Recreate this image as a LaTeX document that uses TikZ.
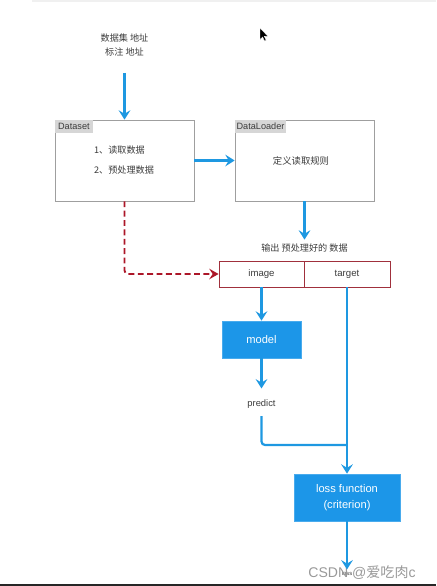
\documentclass[tikz,border=0pt]{standalone}
\usepackage{fontspec}
\setmainfont{Liberation Sans}
\newfontfamily\cjk{Noto Sans CJK SC}
\usetikzlibrary{arrows.meta}
\definecolor{flowblue}{RGB}{30,152,225}
\definecolor{boxblue}{RGB}{28,150,232}
\definecolor{dashred}{RGB}{172,22,40}
\definecolor{cellred}{RGB}{160,48,60}
\definecolor{txtgray}{RGB}{60,60,60}
\tikzset{
  flow/.style={draw=flowblue,line width=1.9pt,-{Stealth[length=8pt,width=10pt,inset=3pt]}},
  flowline/.style={draw=flowblue,line width=1.9pt,rounded corners=3pt},
  redflow/.style={draw=dashred,line width=1.6pt,dash pattern=on 5pt off 3pt,rounded corners=3pt,-{Stealth[length=8pt,width=9pt,inset=3pt]}},
  stagebox/.style={draw=gray!75,line width=0.6pt,fill=white,minimum width=4.17cm,minimum height=2.43cm,inner sep=0pt},
  tabbox/.style={fill=gray!32,text=txtgray,font=\fontsize{7.8}{9}\selectfont,inner sep=1.5pt,anchor=north west,minimum height=0.39cm},
  cellbox/.style={draw=cellred,line width=0.7pt,minimum height=0.78cm,inner sep=0pt,text=txtgray,font=\fontsize{8.2}{10}\selectfont},
  bluebox/.style={fill=boxblue,draw=boxblue!80!white,line width=0.6pt,text=white,font=\fontsize{9.5}{13}\selectfont,align=center,inner sep=0pt},
  note/.style={text=txtgray,font=\cjk\fontsize{7.8}{11.5}\selectfont,align=center}
}
\begin{document}
\begin{tikzpicture}[x=0.03cm,y=-0.03cm]
\useasboundingbox (0,0) rectangle (436,586);
\fill[gray!12] (32,0) rectangle (436,1.5);
\fill[black!85] (0,583.5) rectangle (436,586);

% cursor
\filldraw[black,draw=white,line width=0.3pt] (260,28)--(260,39.5)--(262.6,37)--(264.6,41)--(266.2,40.3)--(264.3,36.4)--(267.8,36.2)--cycle;

\node[note] (src) at (124.5,45) {数据集 地址\\标注 地址};

\node[stagebox] (dataset) at (124.5,160.5) {};
\node[tabbox,minimum width=1.14cm] (dstab) at (dataset.north west) {Dataset};
\node[note,align=left,font=\cjk\fontsize{7.8}{17}\selectfont] (dstext) at (124,160) {1、读取数据\\2、预处理数据};

\node[stagebox] (loader) at (304.5,160.5) {};
\node[tabbox,minimum width=1.53cm] (ldtab) at (loader.north west) {DataLoader};
\node[note,font=\cjk\fontsize{8}{11}\selectfont] (ldtext) at (301,161) {定义读取规则};

\node[note] (out) at (304.5,248) {输出 预处理好的 数据};

\node[cellbox,minimum width=2.55cm] (image) at (261.5,274) {image};
\node[cellbox,minimum width=2.58cm] (target) at (347,274) {target};

\node[bluebox,minimum width=2.37cm,minimum height=1.11cm] (model) at (261.5,339.5) {model};
\node[text=txtgray,font=\fontsize{8}{10}\selectfont] (predict) at (261.5,404) {predict};

\node[bluebox,minimum width=3.18cm,minimum height=1.41cm] (loss) at (347,497.5) {loss function\\(criterion)};
\node[text=txtgray,font=\fontsize{5}{6}\selectfont,inner sep=1pt] (lossout) at (347,573) {loss};
\node[text=gray!80,font=\fontsize{12}{14}\selectfont,inner sep=0pt] (mark) at (362,573) {CSDN @{\cjk 爱吃肉}c};

\coordinate (join) at (347,445);

\draw[flow,shorten <=11pt] (src.south) -- (dataset.north);
\draw[flow] (dataset.east) -- (loader.west);
\draw[flow] (loader.south) -- (out.north);
\draw[redflow] (dataset.south) |- (image.west);
\draw[flow] (image.south) -- (model.north);
\draw[flow,shorten >=6pt] (model.south) -- (predict.north);
\draw[flowline,shorten <=3pt] (predict.south) |- (join);
\draw[flow] (target.south) -- (loss.north);
\draw[flow] (loss.south) -- (lossout.north);

\end{tikzpicture}
\end{document}
